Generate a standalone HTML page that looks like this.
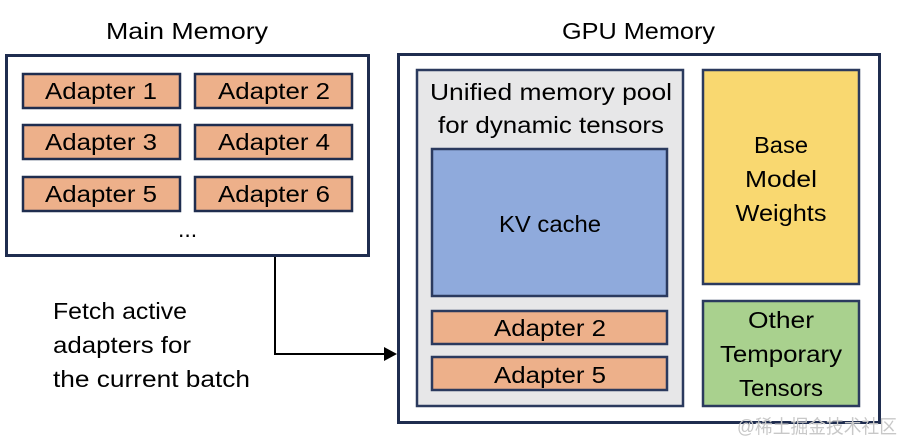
<!DOCTYPE html>
<html><head><meta charset="utf-8"><style>
html,body{margin:0;padding:0;background:#fff;}
svg{display:block;}
text{font-family:"Liberation Sans",sans-serif;font-size:23px;fill:#000;}
</style></head><body>
<svg width="904" height="442" viewBox="0 0 904 442" xmlns="http://www.w3.org/2000/svg">
<rect x="0" y="0" width="904" height="442" fill="#fff"/>
<text x="106" y="39" textLength="162" lengthAdjust="spacingAndGlyphs">Main Memory</text>
<text x="562" y="39" textLength="153" lengthAdjust="spacingAndGlyphs">GPU Memory</text>
<rect x="6.5" y="55.5" width="362" height="200" fill="#fff" stroke="#1f2d4f" stroke-width="3"/>
<g fill="#edb08a" stroke="#1f2d4f" stroke-width="2.5">
<rect x="23" y="74" width="157" height="34"/><rect x="195" y="74" width="157" height="34"/>
<rect x="23" y="125" width="157" height="34"/><rect x="195" y="125" width="157" height="34"/>
<rect x="23" y="177" width="157" height="34"/><rect x="195" y="177" width="157" height="34"/>
</g>
<text x="45" y="99" textLength="112" lengthAdjust="spacingAndGlyphs">Adapter 1</text>
<text x="218" y="99" textLength="112" lengthAdjust="spacingAndGlyphs">Adapter 2</text>
<text x="45" y="150" textLength="112" lengthAdjust="spacingAndGlyphs">Adapter 3</text>
<text x="218" y="150" textLength="112" lengthAdjust="spacingAndGlyphs">Adapter 4</text>
<text x="45" y="202" textLength="112" lengthAdjust="spacingAndGlyphs">Adapter 5</text>
<text x="218" y="202" textLength="112" lengthAdjust="spacingAndGlyphs">Adapter 6</text>
<text x="178" y="237" font-size="20">...</text>
<rect x="398.5" y="54.5" width="481" height="368" fill="#fff" stroke="#1f2d4f" stroke-width="3"/>
<rect x="417" y="70" width="266" height="336" fill="#e7e7e8" stroke="#2b3a5e" stroke-width="2.5"/>
<text x="430" y="100" textLength="242" lengthAdjust="spacingAndGlyphs">Unified memory pool</text>
<text x="438" y="133" textLength="226" lengthAdjust="spacingAndGlyphs">for dynamic tensors</text>
<rect x="432" y="149" width="235" height="147" fill="#8faadc" stroke="#2b3a5e" stroke-width="2.5"/>
<text x="499" y="232" textLength="102" lengthAdjust="spacingAndGlyphs">KV cache</text>
<rect x="432" y="311" width="235" height="33" fill="#edb08a" stroke="#2b3a5e" stroke-width="2.5"/>
<text x="494" y="336" textLength="112" lengthAdjust="spacingAndGlyphs">Adapter 2</text>
<rect x="432" y="357" width="235" height="33" fill="#edb08a" stroke="#2b3a5e" stroke-width="2.5"/>
<text x="494" y="383" textLength="112" lengthAdjust="spacingAndGlyphs">Adapter 5</text>
<rect x="703" y="70" width="156" height="214" fill="#f9d870" stroke="#2b3a5e" stroke-width="2.5"/>
<text x="781" y="153" text-anchor="middle" font-size="24" textLength="54" lengthAdjust="spacingAndGlyphs">Base</text>
<text x="781" y="187" text-anchor="middle" font-size="24" textLength="72" lengthAdjust="spacingAndGlyphs">Model</text>
<text x="781" y="221" text-anchor="middle" font-size="24" textLength="91" lengthAdjust="spacingAndGlyphs">Weights</text>
<rect x="703" y="301" width="156" height="105" fill="#a9d18e" stroke="#2b3a5e" stroke-width="2.5"/>
<text x="781" y="328" text-anchor="middle" font-size="24" textLength="66" lengthAdjust="spacingAndGlyphs">Other</text>
<text x="781" y="362" text-anchor="middle" font-size="24" textLength="122" lengthAdjust="spacingAndGlyphs">Temporary</text>
<text x="781" y="396" text-anchor="middle" font-size="24" textLength="84" lengthAdjust="spacingAndGlyphs">Tensors</text>
<polyline points="275,257 275,354 385,354" fill="none" stroke="#000" stroke-width="2"/>
<polygon points="384,347 397,354 384,361" fill="#000"/>
<text x="53" y="319" textLength="134" lengthAdjust="spacingAndGlyphs">Fetch active</text>
<text x="53" y="353" textLength="138" lengthAdjust="spacingAndGlyphs">adapters for</text>
<text x="53" y="387" textLength="197" lengthAdjust="spacingAndGlyphs">the current batch</text>
<text x="737" y="433" style="font-family:'Liberation Sans','Noto Sans CJK SC',sans-serif;font-size:19px;fill:#c8c8c8" textLength="160" lengthAdjust="spacingAndGlyphs">@稀土掘金技术社区</text>
</svg>
</body></html>
